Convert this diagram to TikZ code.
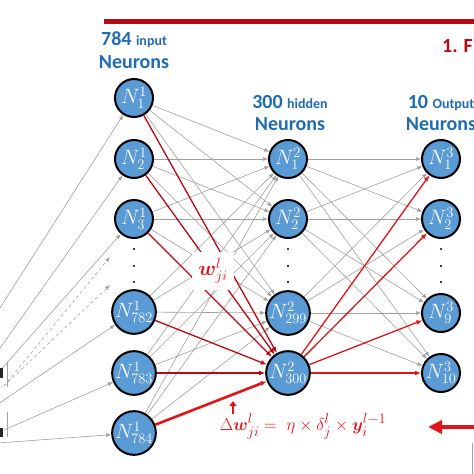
\documentclass[tikz,border=0pt]{standalone}
\usepackage{fontspec}
\setmainfont{Carlito}
\usepackage{amsmath}
\usepackage{bm}
\usetikzlibrary{arrows.meta}
\definecolor{nnBlue}{RGB}{91,155,213}
\definecolor{ttlBlue}{RGB}{31,108,178}
\definecolor{darkRed}{RGB}{180,10,20}
\definecolor{linkRed}{RGB}{225,20,25}
\definecolor{linkGray}{RGB}{160,160,160}
\newcommand{\lbsize}{\fontsize{14}{14}\selectfont}
\tikzset{
    neuron/.style={circle, draw=black, line width=2pt, fill=nnBlue, minimum size=38pt,
                   inner sep=0pt, text=white, font=\fontsize{21}{21}\selectfont},
    link/.style={-{Latex[length=5pt,width=4pt]}, draw=linkGray, line width=0.6pt},
    dlink/.style={link, dashed},
    rlink/.style={-{Latex[length=6pt,width=5pt]}, draw=#1, line width=1.3pt},
    rlink/.default=linkRed,
    ttl/.style={text=ttlBlue, font=\bfseries\fontsize{20}{20}\selectfont, inner sep=0pt, anchor=base},
    wlbl/.style={fill=white, text=linkRed, inner sep=6pt, font=\fontsize{22}{22}\selectfont},
    eqn/.style={text=linkRed, inner sep=0pt, font=\fontsize{19}{19}\selectfont}
}

\begin{document}
\begin{tikzpicture}[x=1pt, y=-1pt]
    \useasboundingbox (0,0) rectangle (474,474);
    \clip (0,0) rectangle (474,474);

    % layers
    \foreach \i/\y in {1/98, 2/159, 3/219, 782/312, 783/373, 784/433}
        \node[neuron] (in\i) at (134,\y) {$N^{1}_{\i}$};
    \foreach \j/\y in {1/159, 2/219, 299/313, 300/373}
        \node[neuron] (hid\j) at (288,\y) {$N^{2}_{\j}$};
    \foreach \k/\y in {1/159, 2/219, 9/313, 10/373}
        \node[neuron] (out\k) at (441,\y) {$N^{3}_{\k}$};
    \foreach \x in {134,288,441}
        \foreach \y in {249,266,282}
            \fill (\x,\y) circle (1.1pt);

    % titles
    \node[ttl] (inTtl) at (134,45) {784 {\lbsize input}};
    \node[ttl] (inNeu) at (134,68) {Neurons};
    \node[ttl] (hidTtl) at (290,108) {300 {\lbsize hidden}};
    \node[ttl] (hidNeu) at (290,130) {Neurons};
    \node[ttl] (outTtl) at (441,108) {10 {\lbsize Output}};
    \node[ttl] (outNeu) at (441,130) {Neurons};
    \node[ttl, text=darkRed, anchor=base west] (pass) at (442,52) {1. F};
    \coordinate (barL) at (104,21);
    \coordinate (barR) at (480,21);
    \draw[darkRed, line width=5pt] (barL) -- (barR);

    % inputs from the left
    \coordinate (s1) at (-2,311);
    \coordinate (s2) at (-2,351);
    \coordinate (s3) at (-2,373);
    \coordinate (sd) at (4,386);
    \coordinate (s782) at (-2,404);
    \coordinate (s783) at (4,430);
    \coordinate (s784) at (-2,443);
    \coordinate (dA) at (110,257);
    \coordinate (dB) at (110,285);
    \foreach \i in {1,2,3,782,783,784}
        \draw[link] (s\i) -- (in\i);
    \draw[dlink] (sd) -- (dA);
    \draw[dlink] (sd) -- (dB);
    \draw[linkGray, line width=0.6pt] (7,362) -- (7,387) (7,412) -- (7,437);
    \fill[black!85] (0,368) rectangle (3,378);
    \fill[black!85] (0,428) rectangle (3,437);

    % weights
    \foreach \i in {1,2,3,782,783,784}
        \foreach \j in {1,2,299}
            \draw[link] (in\i) -- (hid\j);
    \foreach \j in {1,2,299}
        \foreach \k in {1,2,9,10}
            \draw[link] (hid\j) -- (out\k);
    \foreach \i in {1,2,3,782,783}
        \draw[rlink=darkRed] (in\i) -- (hid300);
    \draw[rlink, line width=2.6pt] (in784) -- (hid300);
    \foreach \k in {1,2,9,10}
        \draw[rlink] (hid300) -- (out\k);

    \node[wlbl] (wji) at (213,271) {$\bm{w}^{l}_{ji}$};

    % update rule
    \node[eqn] (upd) at (303,426) {$\Delta\bm{w}^{l}_{ji} = \;\eta\times\delta^{l}_{j}\times\bm{y}^{l-1}_{i}$};
    \coordinate (upB) at (233,414);
    \coordinate (upT) at (233,401);
    \draw[linkRed, line width=1.8pt, -{Triangle[length=5pt,width=7pt]}] (upB) -- (upT);
    \coordinate (backR) at (478,427);
    \coordinate (backL) at (428,427);
    \draw[linkRed, line width=4pt, -{Triangle[length=14pt,width=13pt]}] (backR) -- (backL);
    \draw[linkGray, line width=0.6pt] (472,443) -- (472,476);
\end{tikzpicture}
\end{document}
